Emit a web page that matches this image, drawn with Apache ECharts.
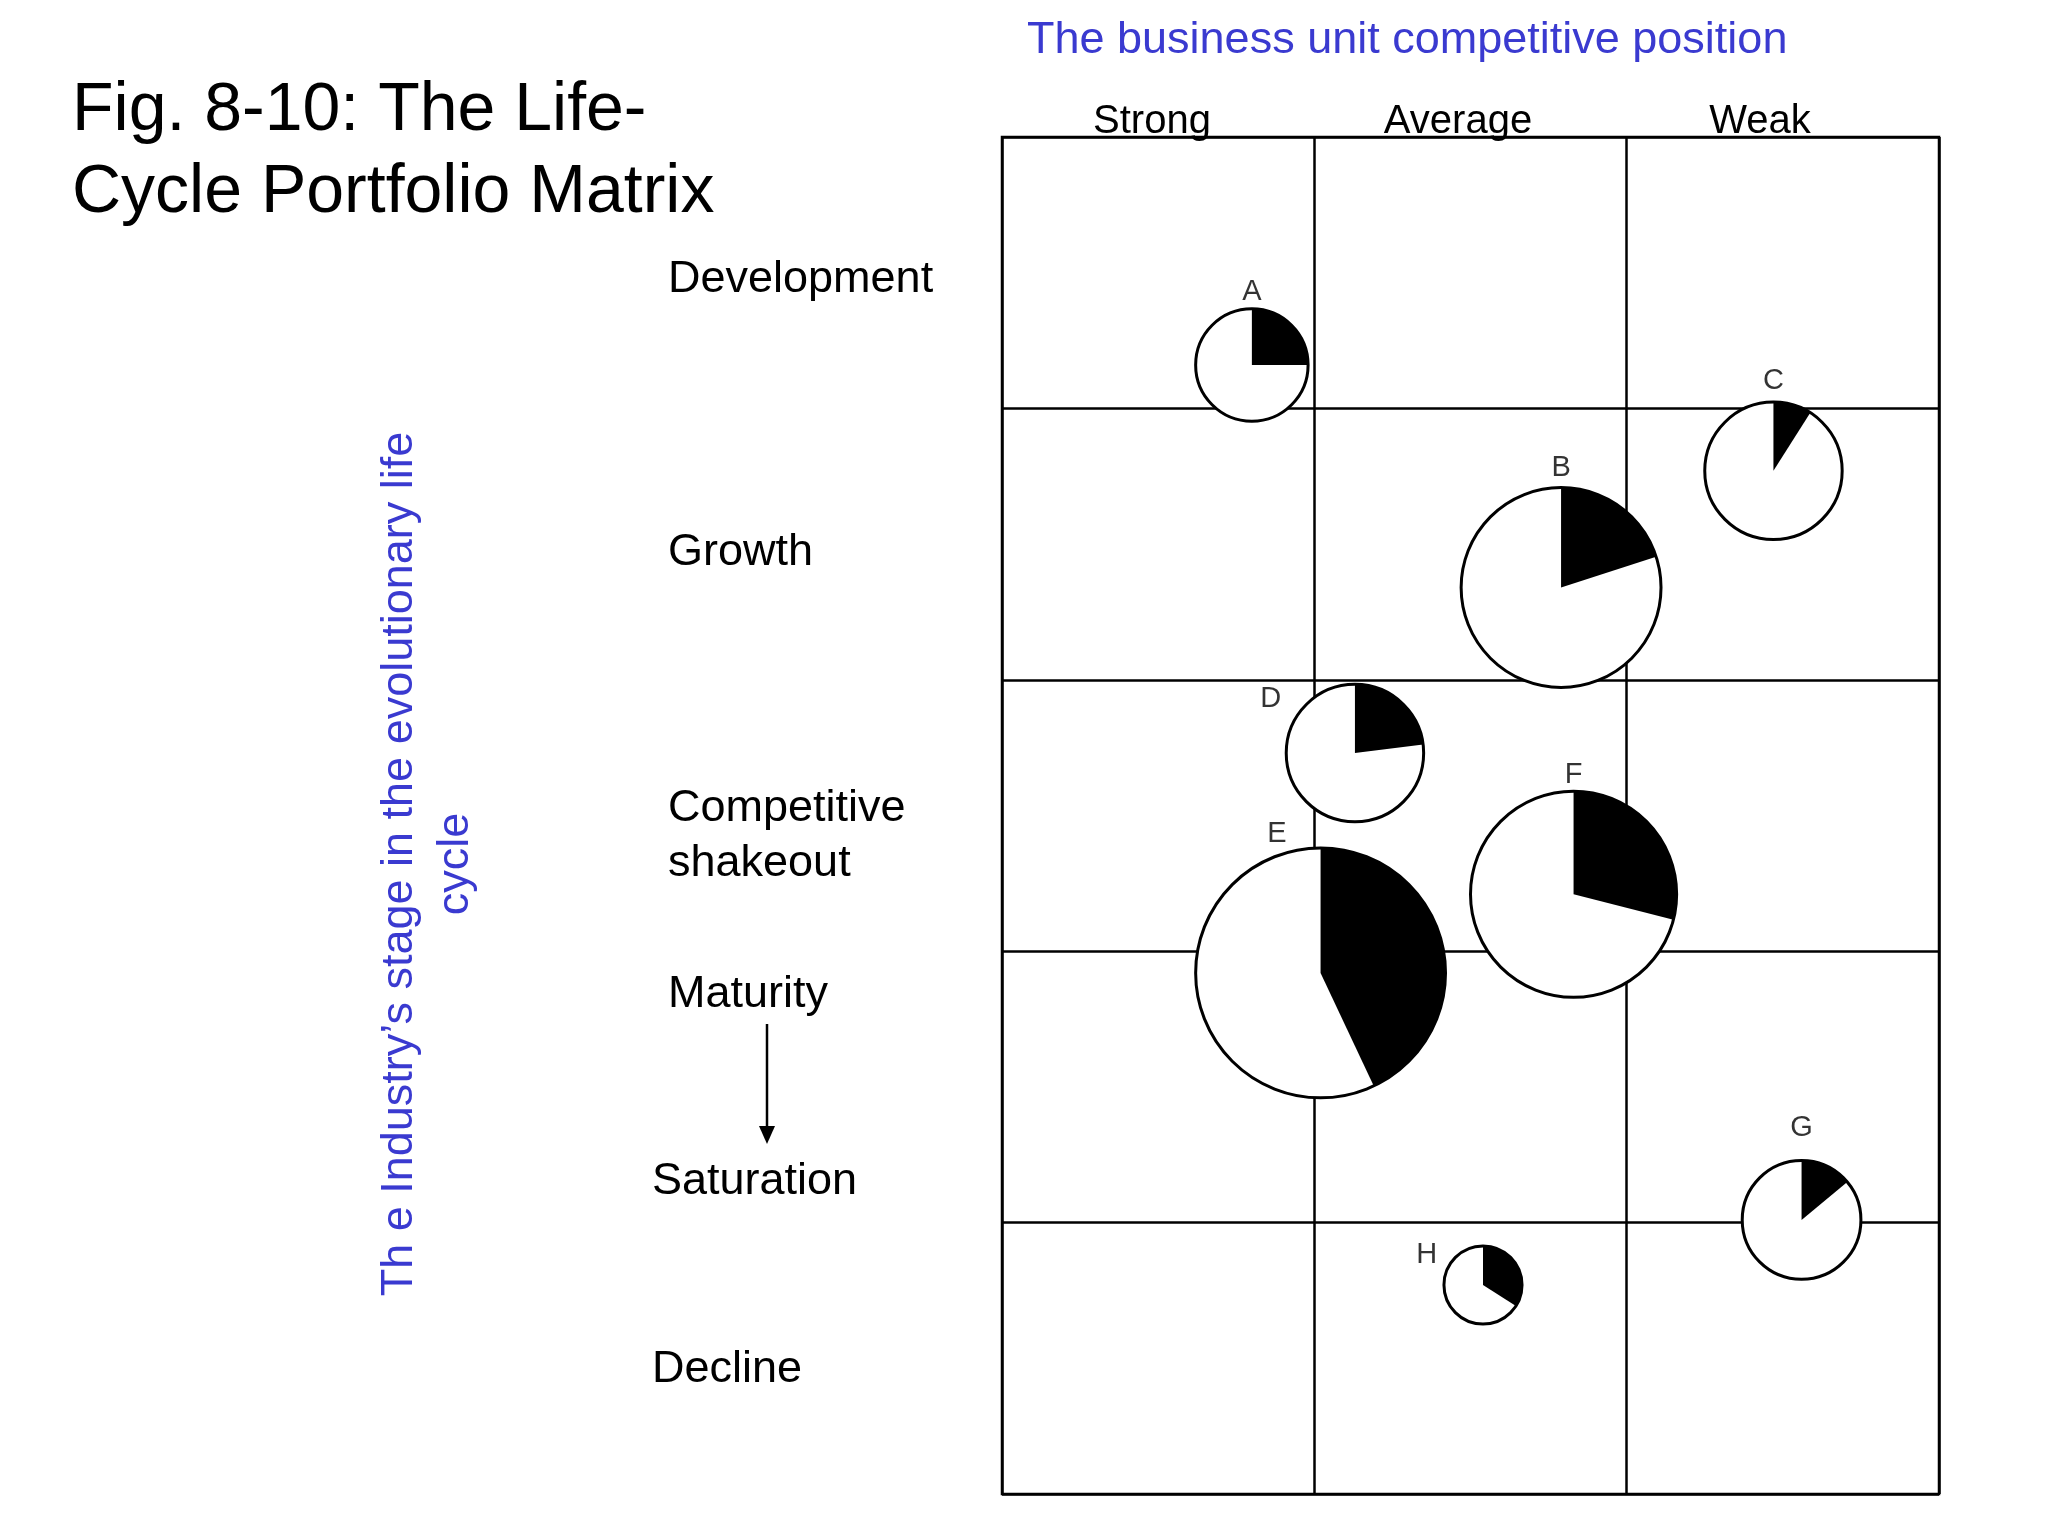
<!DOCTYPE html><html><head><meta charset="utf-8"><script src="https://cdn.jsdelivr.net/npm/echarts@6/dist/echarts.min.js"></script></head><body style="margin:0"><div id="c" style="width:2048px;height:1536px"></div><script>
const columns=['Strong','Average','Weak'];
const stages=['Development','Growth','Competitive\nshakeout','Maturity','Saturation','Decline'];
const names=['A','B','C','D','E','F','G','H'];
const posX=[0.80,1.79,2.47,1.13,1.02,1.83,2.56,1.54];
const posY=[0.84,1.66,1.23,2.27,3.08,2.79,3.99,4.23];
const radius=[0.18,0.32,0.22,0.22,0.40,0.33,0.19,0.125];
const share=[0.25,0.20,0.09,0.23,0.43,0.29,0.14,0.34];
const labelX=[0.80,1.79,2.47,0.86,0.88,1.83,2.56,1.36];
const labelY=[0.57,1.22,0.90,2.07,2.57,2.35,3.65,4.12];
const ch=echarts.init(document.getElementById('c'));
const G={left:1002,top:137,width:937,height:1357};
const blue='#3a3ad0';
const colX=[1152,1458,1760];
ch.setOption({
 backgroundColor:'#fff',animation:false,
 grid:G,
 xAxis:{type:'value',min:0,max:3,interval:1,axisLine:{show:false},axisTick:{show:false},axisLabel:{show:false},splitLine:{lineStyle:{color:'#000',width:2.5}}},
 yAxis:{type:'value',min:0,max:5,interval:1,inverse:true,axisLine:{show:false},axisTick:{show:false},axisLabel:{show:false},splitLine:{lineStyle:{color:'#000',width:2.5}}},
 graphic:[
  {type:'rect',shape:{x:G.left,y:G.top,width:G.width,height:G.height},style:{fill:'none',stroke:'#000',lineWidth:2.5},z:0},
  {type:'text',left:72,top:70,style:{text:'Fig. 8-10: The Life-\nCycle Portfolio Matrix',font:'68px Liberation Sans, Arial',fill:'#000',lineHeight:82}},
  {type:'text',left:1027,top:18,style:{text:'The business unit competitive position',font:'45px Liberation Sans, Arial',fill:blue}},
  ...columns.map((c,i)=>({type:'text',x:colX[i],y:102,style:{text:c,font:'40px Liberation Sans, Arial',fill:'#000',align:'center'}})),
  ...[[0,280],[1,553],[2,836],[3,995],[4,1182],[5,1370]].map(([i,y])=>({type:'text',x:i>=4?652:668,y:y,style:{text:stages[i],font:'45px Liberation Sans, Arial',fill:'#000',lineHeight:55,verticalAlign:'middle'}})),
  {type:'line',shape:{x1:767,y1:1024,x2:767,y2:1128},style:{stroke:'#000',lineWidth:2.5}},
  {type:'polygon',shape:{points:[[759,1126],[775,1126],[767,1144]]},style:{fill:'#000'}},
  {type:'text',x:428,y:864,rotation:Math.PI/2,style:{text:'Th e Industry\u2019s stage in the evolutionary life\ncycle',font:'45px Liberation Sans, Arial',fill:blue,align:'center',verticalAlign:'middle',lineHeight:56}}
 ],
 series:[
  {type:'custom',data:names.map((n,i)=>[posX[i],posY[i],radius[i],share[i]]),
   renderItem:function(p,api){
    const c=api.coord([api.value(0),api.value(1)]);
    const r=api.size([api.value(2),0])[0];
    const s=api.value(3);
    const a0=-Math.PI/2,a1=a0+s*2*Math.PI;
    return {type:'group',children:[
     {type:'circle',shape:{cx:c[0],cy:c[1],r:r},style:{fill:'#fff',stroke:'#000',lineWidth:3}},
     {type:'sector',shape:{cx:c[0],cy:c[1],r0:0,r:r,startAngle:a0,endAngle:a1},style:{fill:'#000'}}
    ]};
   }},
  {type:'scatter',symbolSize:0,data:names.map((n,i)=>[labelX[i],labelY[i],n]),
   label:{show:true,position:'inside',formatter:p=>p.data[2],fontSize:29,color:'#000',fontFamily:'Liberation Sans, Arial'}}
 ]
});
</script></body></html>
